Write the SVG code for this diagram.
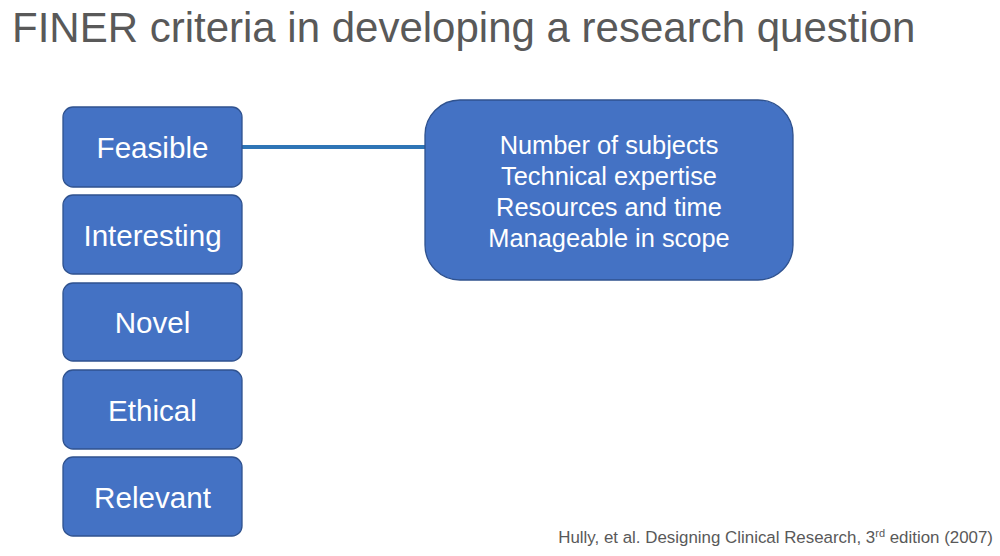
<svg xmlns="http://www.w3.org/2000/svg" width="1000" height="556" viewBox="0 0 1000 556">
<style>
.box{fill:#4472C4;stroke:#2F528F;stroke-width:1.3}
.lbl{font-family:"Liberation Sans",Arial,sans-serif;fill:#FFFFFF;text-anchor:middle}
.t28{font-size:29.6px}
.t24{font-size:25.4px}
</style>
<rect width="1000" height="556" fill="#FFFFFF"/>
<text x="12" y="42" font-family="Liberation Sans, Arial, sans-serif" font-size="42" fill="#595959">FINER criteria in developing a research question</text>
<g id="connectors">
<line x1="242" y1="147" x2="425" y2="147" stroke="#2E75B6" stroke-width="4"/>
</g>
<g id="feasible"><rect class="box" x="63" y="107" width="179" height="80" rx="10"/><text class="lbl t28" x="152.5" y="158">Feasible</text></g>
<g id="interesting"><rect class="box" x="63" y="195" width="179" height="79" rx="10"/><text class="lbl t28" x="152.5" y="246">Interesting</text></g>
<g id="novel"><rect class="box" x="63" y="283" width="179" height="78" rx="10"/><text class="lbl t28" x="152.5" y="333">Novel</text></g>
<g id="ethical"><rect class="box" x="63" y="370" width="179" height="79" rx="10"/><text class="lbl t28" x="152.5" y="421">Ethical</text></g>
<g id="relevant"><rect class="box" x="63" y="457" width="179" height="79" rx="10"/><text class="lbl t28" x="152.5" y="508">Relevant</text></g>
<g id="details"><rect class="box" x="425" y="100" width="368" height="180" rx="35"/>
<text class="lbl t24" x="609" y="154">Number of subjects</text>
<text class="lbl t24" x="609" y="185">Technical expertise</text>
<text class="lbl t24" x="609" y="216">Resources and time</text>
<text class="lbl t24" x="609" y="247">Manageable in scope</text>
</g>
<text x="993" y="543" text-anchor="end" font-family="Liberation Sans, Arial, sans-serif" font-size="16.9" fill="#595959">Hully, et al. Designing Clinical Research, 3<tspan font-size="11" dy="-6">rd</tspan><tspan dy="6"> edition (2007)</tspan></text>
</svg>
